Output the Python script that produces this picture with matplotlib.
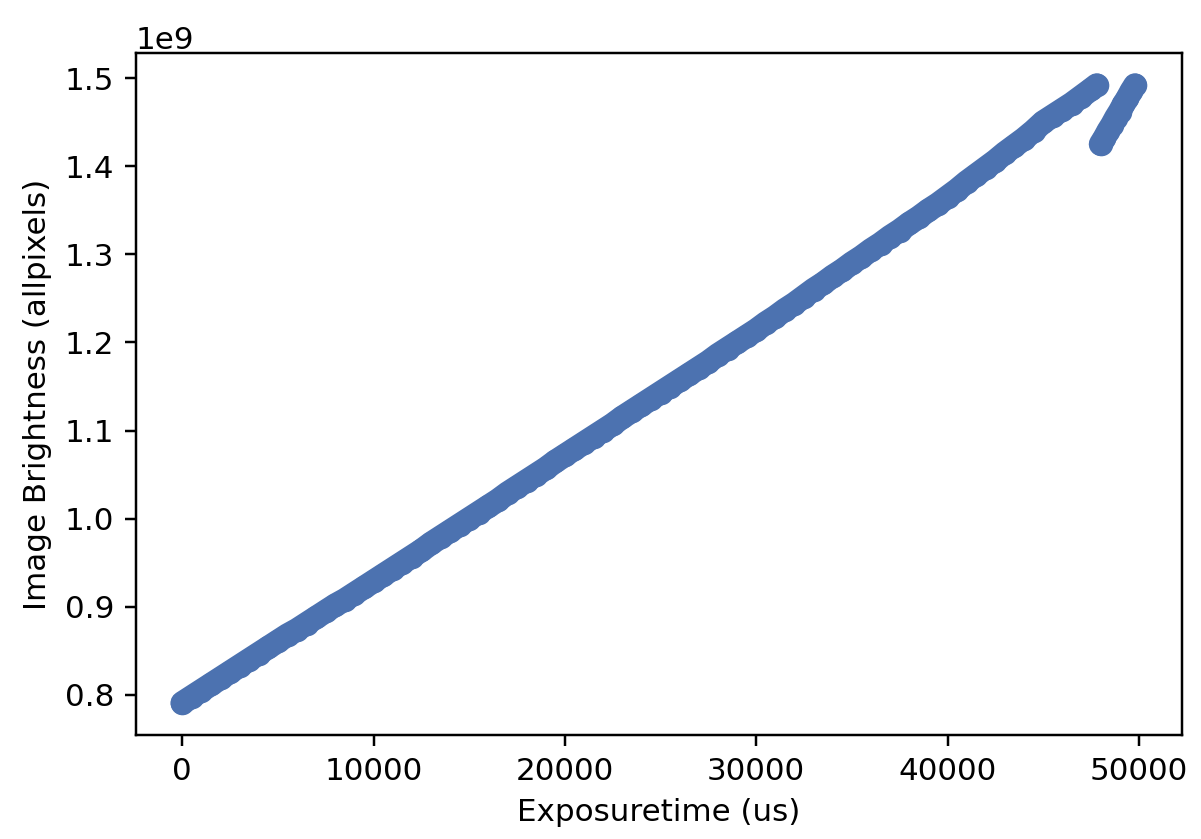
import matplotlib
matplotlib.use("Agg")
import matplotlib.pyplot as plt
import numpy as np

# Exposure time (us) and image brightness (x1e9)
exposure_a = [0, 500, 1000, 1500, 2000, 2500, 3000, 3500, 4000, 4500,
              5000, 5500, 6000, 6500, 7000, 7500, 8000, 8500, 9000, 9500,
              10000, 10500, 11000, 11500, 12000, 12500, 13000, 13500, 14000, 14500,
              15000, 15500, 16000, 16500, 17000, 17500, 18000, 18500, 19000, 19500,
              20000, 20500, 21000, 21500, 22000, 22500, 23000, 23500, 24000, 24500,
              25000, 25500, 26000, 26500, 27000, 27500, 28000, 28500, 29000, 29500,
              30000, 30500, 31000, 31500, 32000, 32500, 33000, 33500, 34000, 34500,
              35000, 35500, 36000, 36500, 37000, 37500, 38000, 38500, 39000, 39500,
              40000, 40500, 41000, 41500, 42000, 42500, 43000, 43500, 44000, 44500,
              45000, 45500, 46000, 46500, 47000, 47500, 47800]
brightness_a = [0.791, 0.798, 0.805, 0.812, 0.819, 0.826, 0.833, 0.840, 0.847, 0.854,
                0.861, 0.868, 0.874, 0.881, 0.888, 0.895, 0.902, 0.908, 0.915, 0.922,
                0.929, 0.936, 0.943, 0.950, 0.957, 0.964, 0.972, 0.979, 0.986, 0.993,
                1.000, 1.007, 1.014, 1.021, 1.029, 1.036, 1.043, 1.050, 1.057, 1.065,
                1.072, 1.079, 1.086, 1.093, 1.100, 1.107, 1.115, 1.122, 1.129, 1.136,
                1.143, 1.150, 1.157, 1.164, 1.171, 1.178, 1.186, 1.193, 1.200, 1.207,
                1.214, 1.222, 1.229, 1.237, 1.244, 1.252, 1.260, 1.267, 1.275, 1.282,
                1.290, 1.297, 1.305, 1.312, 1.320, 1.327, 1.335, 1.342, 1.350, 1.357,
                1.365, 1.373, 1.382, 1.390, 1.398, 1.406, 1.415, 1.423, 1.431, 1.440,
                1.450, 1.457, 1.464, 1.471, 1.479, 1.487, 1.492]

exposure_b = [48000, 48200, 48400, 48600, 48800, 49000, 49200, 49400, 49600, 49800]
brightness_b = [1.425, 1.432, 1.440, 1.447, 1.455, 1.462, 1.470, 1.477, 1.485, 1.492]

x_label = "Exposuretime (us)"
y_label = "Image Brightness (allpixels)"

k = 3.1 * 72 / 100.0  # scale of the reference relative to a 72-dpi original

plt.rcParams.update({
    "font.family": ["DejaVu Sans"],
    "font.size": 10 * k,
    "axes.linewidth": 0.8 * k,
    "xtick.major.size": 3.5 * k,
    "ytick.major.size": 3.5 * k,
    "xtick.major.width": 0.8 * k,
    "ytick.major.width": 0.8 * k,
    "xtick.major.pad": 3.5 * k,
    "ytick.major.pad": 3.5 * k,
    "axes.labelpad": 4.0 * k,
})

color = "#4C72B0"
marker_d = 17.0  # points

fig = plt.figure(figsize=(12.01, 8.39), dpi=100)
ax = fig.add_axes([136 / 1201, 1 - 735 / 839, (1182 - 136) / 1201, (735 - 53) / 839])

for xs, ys in ((exposure_a, brightness_a), (exposure_b, brightness_b)):
    xv = np.array(xs, dtype=float)
    yv = np.array(ys, dtype=float) * 1e9
    ax.plot(xv, yv, color=color, lw=marker_d, solid_capstyle="round",
            solid_joinstyle="round")
    ax.scatter(xv, yv, s=marker_d ** 2, color=color, linewidths=0)

ax.set_xlim(-2420, 52258)
ax.set_ylim(0.7546e9, 1.5284e9)
ax.set_xticks([0, 10000, 20000, 30000, 40000, 50000])
ax.set_yticks(np.array([0.8, 0.9, 1.0, 1.1, 1.2, 1.3, 1.4, 1.5]) * 1e9)

ax.set_xlabel(x_label)
ax.set_ylabel(y_label)

fig.savefig("out.png", dpi=100)
